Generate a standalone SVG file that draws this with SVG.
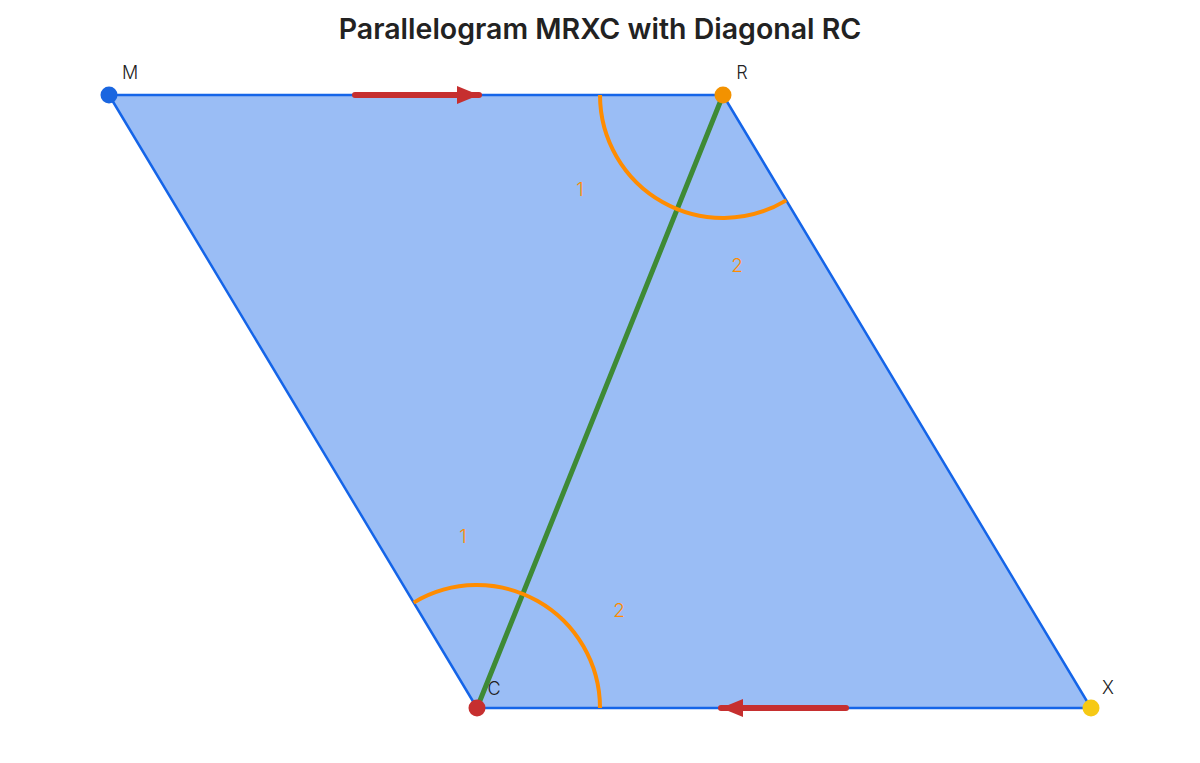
<svg xmlns="http://www.w3.org/2000/svg" width="1200" height="763" viewBox="0 0 1200 763">
<style>
.title{font-family:Inter,"Liberation Sans",sans-serif;font-weight:600;font-size:28.5px;fill:#222;}
.vl{font-family:Inter,"Liberation Sans",sans-serif;font-weight:300;font-size:18px;fill:#222;}
.al{font-family:Inter,"Liberation Sans",sans-serif;font-weight:300;font-size:19px;fill:#ff8c00;}
.arc{fill:none;stroke:#ff8c00;stroke-width:4;}
.dir{stroke:#c62f2f;stroke-width:6;stroke-linecap:round;fill:none;}
</style>
<defs>
<marker id="ah" markerUnits="userSpaceOnUse" markerWidth="24" markerHeight="20" refX="22" refY="10" orient="auto">
<path d="M0,1 L22,10 L0,19 Z" fill="#c62f2f"/>
</marker>
</defs>
<rect width="1200" height="763" fill="#fff"/>
<text class="title" x="600" y="39" text-anchor="middle">Parallelogram MRXC with Diagonal RC</text>
<g id="shape">
<polygon points="109,95 723,95 1091,708 477,708" fill="#9abdf5" stroke="#1565e8" stroke-width="2.5" stroke-linejoin="round"/>
</g>
<g id="connectors">
<line class="dir" x1="355" y1="95" x2="479" y2="95" marker-end="url(#ah)"/>
<line class="dir" x1="846" y1="708" x2="721" y2="708" marker-end="url(#ah)"/>
<line x1="723" y1="95" x2="477" y2="708" stroke="#3e8a35" stroke-width="5" stroke-linecap="round"/>
</g>
<g id="angles">
<path class="arc" d="M600,95 A123,123 0 0 0 786.3,200.4"/>
<path class="arc" d="M600,708 A123,123 0 0 0 413.7,602.6"/>
<text class="al" x="580" y="196" text-anchor="middle">1</text>
<text class="al" x="737" y="272" text-anchor="middle">2</text>
<text class="al" x="463" y="543" text-anchor="middle">1</text>
<text class="al" x="619" y="617" text-anchor="middle">2</text>
</g>
<g id="M"><circle cx="109" cy="95" r="8.5" fill="#1a66e0"/><text class="vl" x="130" y="79" text-anchor="middle">M</text></g>
<g id="R"><circle cx="723" cy="95" r="8.5" fill="#f39200"/><text class="vl" x="742" y="79" text-anchor="middle">R</text></g>
<g id="X"><circle cx="1091" cy="708" r="8.5" fill="#f6c915"/><text class="vl" x="1108" y="694" text-anchor="middle">X</text></g>
<g id="C"><circle cx="477" cy="708" r="8.5" fill="#c62f2f"/><text class="vl" x="494" y="695" text-anchor="middle">C</text></g>
</svg>
